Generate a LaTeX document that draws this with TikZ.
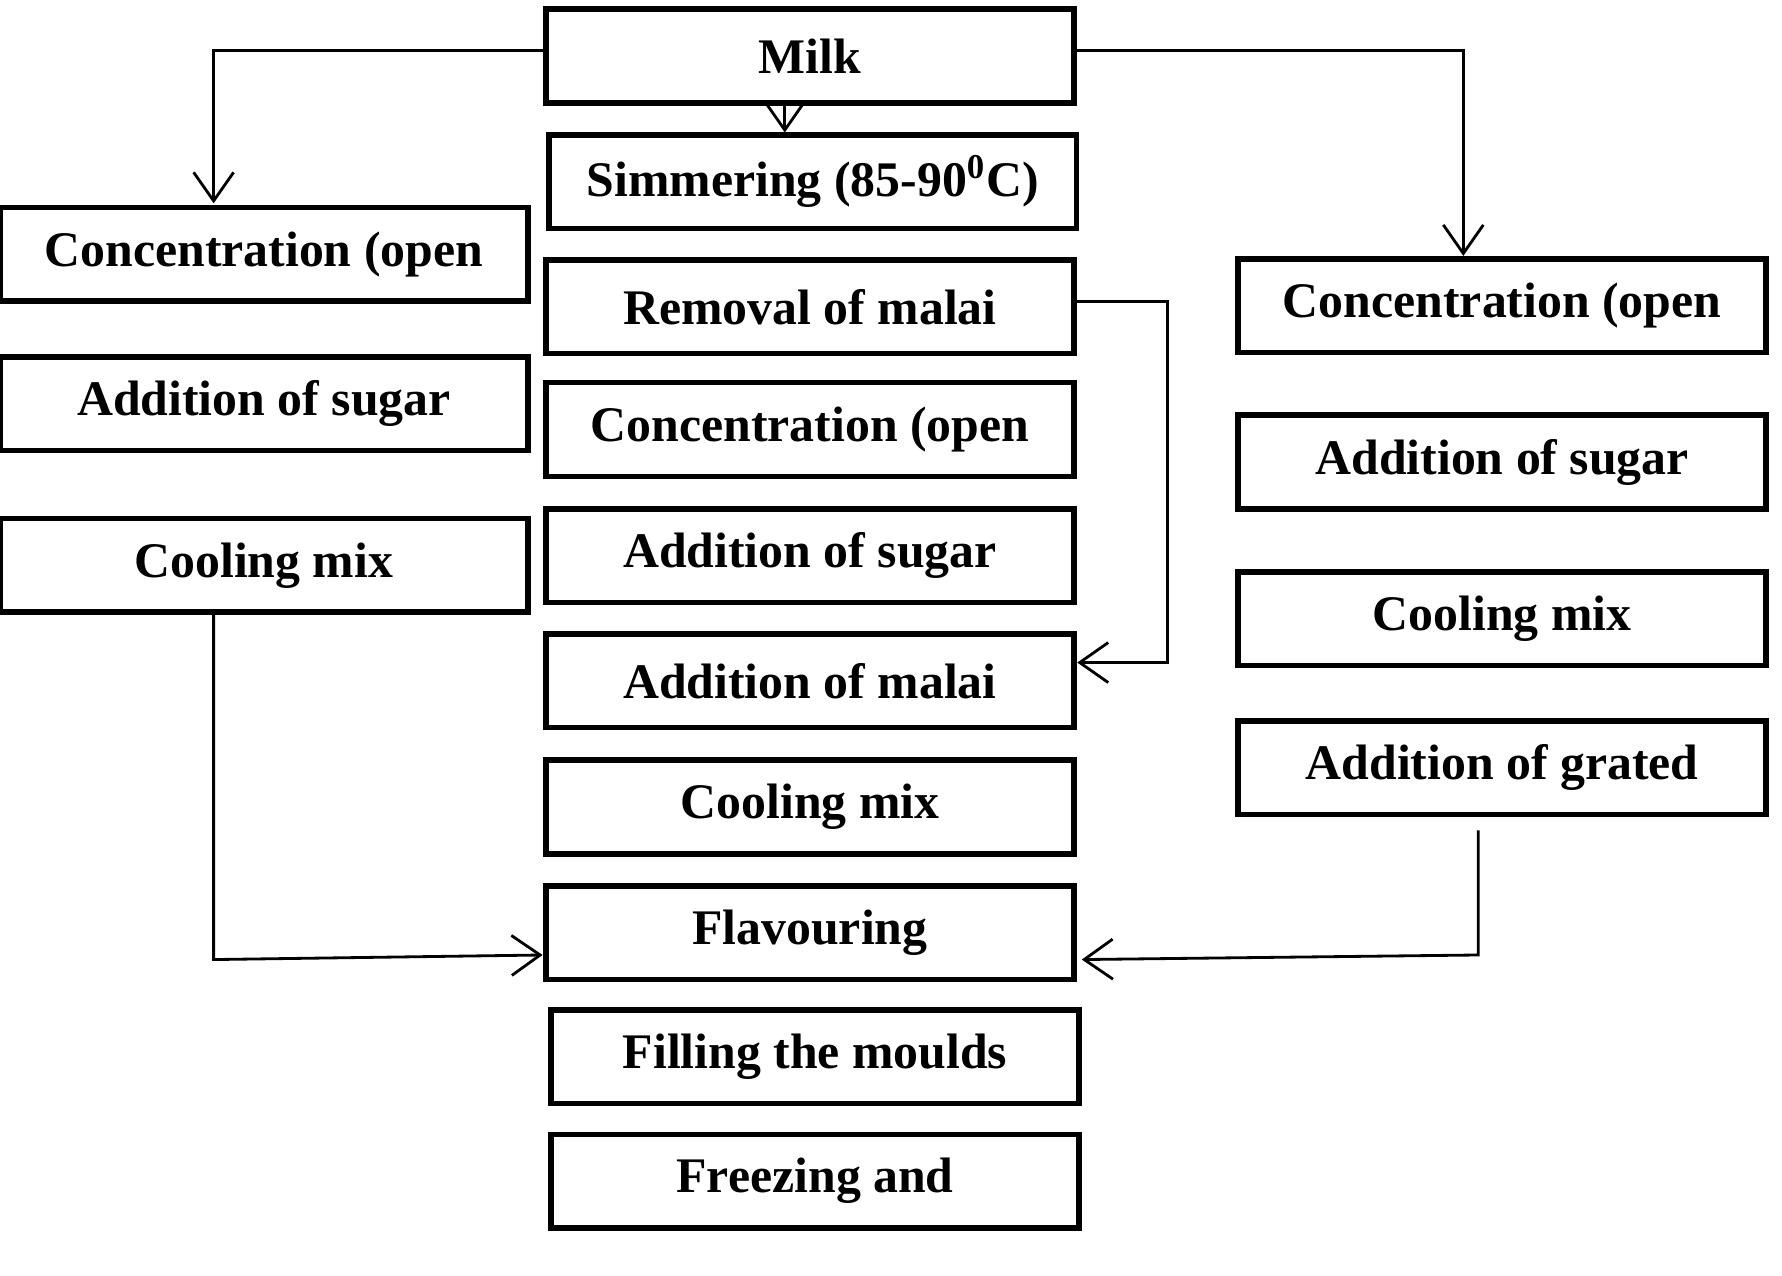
\documentclass[tikz,border=0pt]{standalone}
\usepackage{fontspec}
\setmainfont{Liberation Serif}
\usetikzlibrary{arrows.meta}
\begin{document}
\begin{tikzpicture}[x=1cm,y=-1cm,
	box/.style={draw,line width=1.4pt,minimum width=4.62cm,minimum height=0.82cm,inner sep=0pt,
		font=\fontsize{12.4}{14}\selectfont\bfseries},
	flow/.style={line width=0.7pt,-{Straight Barb[length=2.5mm,width=3.5mm]}}]
	\useasboundingbox (0,0) rectangle (15.6,11.17);
	% Mittlere Spalte
	\node[box] (milk) at (7.09,0.49) {Milk};
	\node[box] (simmer) at (7.115,1.59) {Simmering (85-90\textsuperscript{0}C)};
	\node[box] (removal) at (7.09,2.685) {Removal of malai};
	\node[box] (concM) at (7.09,3.76) {Concentration (open};
	\node[box] (sugarM) at (7.09,4.865) {Addition of sugar};
	\node[box] (malai) at (7.09,5.96) {Addition of malai};
	\node[box] (coolM) at (7.09,7.065) {Cooling mix};
	\node[box] (flav) at (7.09,8.165) {Flavouring};
	\node[box] (fill) at (7.135,9.25) {Filling the moulds};
	\node[box] (freeze) at (7.135,10.34) {Freezing and};
	% Linke Spalte
	\node[box] (concL) at (2.31,2.225) {Concentration (open};
	\node[box] (sugarL) at (2.31,3.535) {Addition of sugar};
	\node[box] (coolL) at (2.31,4.95) {Cooling mix};
	% Rechte Spalte
	\node[box] (concR) at (13.15,2.675) {Concentration (open};
	\node[box] (sugarR) at (13.15,4.045) {Addition of sugar};
	\node[box] (coolR) at (13.15,5.415) {Cooling mix};
	\node[box] (grated) at (13.15,6.72) {Addition of grated};
	% Pfeile
	\coordinate (leftTop) at (1.87,0.44);
	\coordinate (rightTop) at (12.81,0.44);
	\coordinate (loopR) at (10.22,2.64);
	\coordinate (leftLow) at (1.87,8.40);
	\coordinate (rightStart) at (12.94,7.27);
	\coordinate (rightLow) at (12.94,8.36);
	\draw[flow] (milk.west |- leftTop) -- (leftTop) -- (1.87,1.78);
	\draw[flow] (milk.east |- rightTop) -- (rightTop) -- (concR.north -| rightTop);
	\draw[flow] (6.87,0.90) -- (6.87,1.16);
	\draw[flow] (removal.east |- loopR) -- (loopR) -- (10.22,5.80) -- (9.43,5.80);
	\draw[flow] (coolL.south -| leftLow) -- (leftLow) -- (4.75,8.36);
	\draw[flow] (rightStart) -- (rightLow) -- (9.47,8.40);
\end{tikzpicture}
\end{document}
